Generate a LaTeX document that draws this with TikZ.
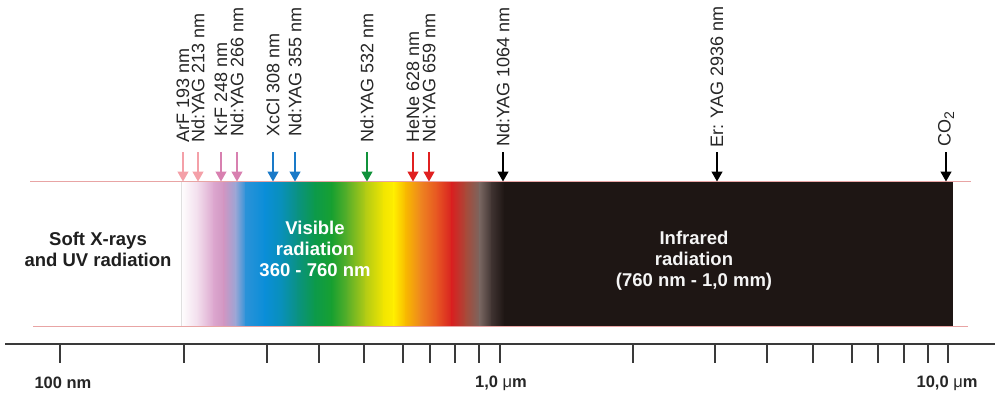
\documentclass[tikz,border=0pt]{standalone}
\usepackage{fontspec}
\setmainfont{Liberation Sans}
\usetikzlibrary{arrows.meta}
\definecolor{c0}{HTML}{FFFFFF}
\definecolor{c1}{HTML}{F2DDEC}
\definecolor{c2}{HTML}{DCA6CE}
\definecolor{c3}{HTML}{D096C2}
\definecolor{c4}{HTML}{98A6D6}
\definecolor{c5}{HTML}{2A92D8}
\definecolor{c6}{HTML}{0A8ED8}
\definecolor{c7}{HTML}{0990B8}
\definecolor{c8}{HTML}{0A9280}
\definecolor{c9}{HTML}{0C9A4A}
\definecolor{c10}{HTML}{18A030}
\definecolor{c11}{HTML}{5CB028}
\definecolor{c12}{HTML}{B4CC14}
\definecolor{c13}{HTML}{F2E600}
\definecolor{c14}{HTML}{FFEE00}
\definecolor{c15}{HTML}{F8B800}
\definecolor{c16}{HTML}{EE8420}
\definecolor{c17}{HTML}{E65222}
\definecolor{c18}{HTML}{D82020}
\definecolor{c19}{HTML}{A84A3A}
\definecolor{c20}{HTML}{786660}
\definecolor{c21}{HTML}{3E3230}
\definecolor{c22}{HTML}{1E1614}
\definecolor{irblack}{HTML}{1E1614}
\definecolor{pinkline}{HTML}{E8A4A4}
\definecolor{aSalmon}{HTML}{F4A0A8}
\definecolor{aPink}{HTML}{D880B0}
\definecolor{aBlue}{HTML}{1A7AC8}
\definecolor{aGreen}{HTML}{10923A}
\definecolor{aRed}{HTML}{E02020}
\definecolor{axisgray}{HTML}{3A3A3A}
\begin{document}
\begin{tikzpicture}[x=1pt,y=-1pt,
  lab/.style={rotate=90,anchor=west,inner sep=0pt,font=\fontsize{18}{18}\selectfont,text=black!85},
  arr/.style={-{Triangle[length=10pt,width=11pt]},line width=1.3pt},
  bandtext/.style={align=center,font=\bfseries\fontsize{18.5}{21}\selectfont,inner sep=0pt},
  ticklab/.style={font=\bfseries\fontsize{16.5}{18}\selectfont,inner sep=0pt,text=black!85},
  tick/.style={axisgray,line width=1.3pt},
  bandline/.style={pinkline,line width=1pt}]
\useasboundingbox (0,0) rectangle (1000,396);
\fill[white] (0,0) rectangle (1000,396);
% spectrum band
\foreach \xa/\ca/\xb/\cb in {181/c0/198/c1,198/c1/214/c2,214/c2/224/c3,224/c3/236/c4,236/c4/246/c5,246/c5/265/c6,265/c6/282/c7,282/c7/298/c8,298/c8/315/c9,315/c9/332/c10,332/c10/348/c11,348/c11/366/c12,366/c12/384/c13,384/c13/394/c14,394/c14/406/c15,406/c15/421/c16,421/c16/438/c17,438/c17/452/c18,452/c18/466/c19,466/c19/480/c20,480/c20/492/c21,492/c21/504/c22}
  \shade[left color=\ca,right color=\cb] (\xa-0.4,181) rectangle (\xb+0.4,326);
\fill[irblack] (503.5,181) rectangle (953,326);
\draw[black!12,line width=0.6pt] (181,181) -- (181,326);
\draw[bandline] (30,181) -- (971,181);
\draw[bandline] (33,326) -- (968,326);
% band texts
\node[bandtext,text=black!88] (uv) at (98,249) {Soft X-rays\\and UV radiation};
\node[bandtext,text=white] (vis) at (315,249) {Visible\\radiation\\360 - 760 nm};
\node[bandtext,text=white!96!black] (ir) at (694,261) {Infrared\\radiation\\(760 nm - 1,0 mm)};
% laser labels and arrows
\foreach \n/\x/\yb/\c/\t in {
  arf/183/143/aSalmon/{ArF 193 nm},
  ya/198/143/aSalmon/{Nd:YAG 213 nm},
  krf/221/137/aPink/{KrF 248 nm},
  yb/237/137/aPink/{Nd:YAG 266 nm},
  xcl/273/137/aBlue/{XcCl 308 nm},
  yc/295/137/aBlue/{Nd:YAG 355 nm},
  yd/367/143/aGreen/{Nd:YAG 532 nm},
  hene/413/143/aRed/{HeNe 628 nm},
  ye/429/143/aRed/{Nd:YAG 659 nm},
  yf/503/147/black/{Nd:YAG 1064 nm},
  er/717/148/black/{Er: YAG 2936 nm},
  co/946/147/black/{CO\raisebox{-3.5pt}{\fontsize{14}{14}\selectfont 2}}}
{
  \node[lab] (l\n) at (\x,\yb) {\t};
  \coordinate (t\n) at (\x,152);
  \coordinate (h\n) at (\x,181.5);
  \draw[arr,\c] (t\n) -- (h\n);
}
% axis
\coordinate (axl) at (5,344);
\coordinate (axr) at (995,344);
\draw[axisgray,line width=1.3pt] (axl) -- (axr);
\foreach \x in {60,184,267,319,364,403,430,455,479,500,633,715,767,813,852,878,904,928}
  \draw[tick] (\x,344) -- (\x,363);
\draw[tick,line width=2.6pt] (948,344) -- (948,363);
\node[ticklab] (t100) at (63,383) {100 nm};
\node[ticklab] (t1) at (501,383) {1,0 {\mdseries μ}m};
\node[ticklab] (t10) at (947,383) {10,0 {\mdseries μ}m};
\end{tikzpicture}
\end{document}
